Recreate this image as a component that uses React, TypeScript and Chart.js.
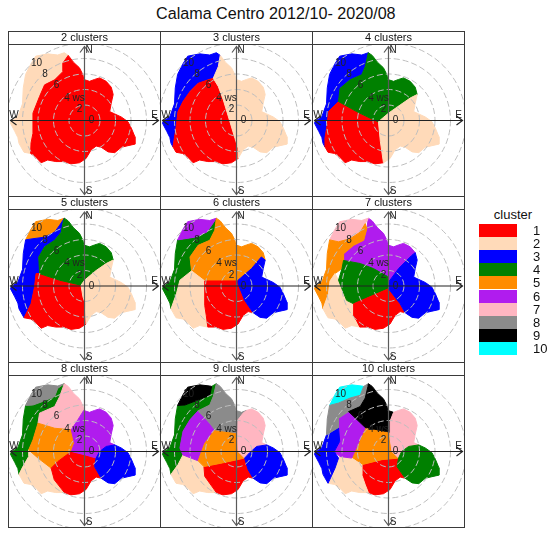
import React, { useEffect, useRef } from "react";
import { Chart, registerables } from "chart.js";

Chart.register(...registerables);

const chartTitle = "Calama Centro 2012/10- 2020/08";
const clusterIds = ["1", "2", "3", "4", "5", "6", "7", "8", "9", "10"];
const clusterColors = ["#FF0000", "#FFDAB9", "#0000FF", "#008000", "#FF8C00", "#B01CEE", "#FFB6C1", "#8B8B8B", "#000000", "#00FFFF"];
const panelCounts = [2, 3, 4, 5, 6, 7, 8, 9, 10];
const ringValues = [2, 4, 6, 8, 10];
const wsLabels = ["0", "2", "4 ws", "6", "8", "10"];
const wsLabelU = [0.9, -0.65, -1.3, -3.6, -5.1, -6.2];
const wsLabelV = [0, 1.4, 2.9, 4.5, 5.95, 7.4];

// Outer limit of the data, wind components (m/s)
const outlineU = [-2.1, -1.4, -0.65, -0.2, -0.1, 0.65, 1.3, 1.95, 2.8, 3.45, 3.7, 3.45, 3.25, 3.9, 4.75, 5.6, 6.05, 6.5, 6.5, 5.6, 4.75, 3.9, 3.05, 2.15, 1.5, 0.85, 0.2, -0.65, -1.75, -2.6, -3.7, -4.75, -5.6, -6.3, -6.95, -7.8, -8.2, -8.45, -8.6, -9.0, -9.55, -9.45, -8.6, -8.0, -7.9, -7.6, -6.95, -6.3, -4.75, -3.45, -2.6];
const outlineV = [8.4, 7.5, 6.8, 5.9, 5.3, 5.05, 5.3, 5.5, 5.05, 4.3, 3.35, 2.25, 1.15, 0.85, 0.45, -0.15, -1.0, -2.1, -3.05, -3.25, -3.45, -4.15, -4.05, -3.45, -3.3, -3.8, -4.9, -5.45, -5.6, -5.3, -5.3, -5.1, -5.45, -4.7, -4.25, -4.1, -3.4, -2.95, -2.2, -1.4, -0.35, -0.1, 0.5, 2.15, 4.2, 5.95, 7.25, 8.3, 8.6, 8.45, 8.75];

// [cluster, outline start, outline end, inner boundary u,v pairs]
type Region = [number, number, number, number[]];

const regions2: Region[] = [
  [1, 0, 34, [-6.9, -2.9, -6.65, -1.65, -6.65, 0.95, -5.8, 3.1, -5.15, 4.6, -3.85, 5.25, -2.8, 6.3, -2.8, 7.4]],
  [2, 34, 0, [-2.8, 7.4, -2.8, 6.3, -3.85, 5.25, -5.15, 4.6, -5.8, 3.1, -6.65, 0.95, -6.65, -1.65, -6.9, -2.9]],
];
const regions3: Region[] = [
  [2, 0, 26, [0.2, -3.55, -0.2, -2.3, -0.85, -0.15, -1.7, 2.65, -2.35, 4.4, -3.0, 5.45, -2.35, 6.95]],
  [1, 26, 36, [-8.0, -2.15, -7.75, -0.55, -7.55, 1.15, -6.9, 2.45, -6.0, 3.75, -4.95, 4.8, -3.65, 5.25, -3.0, 5.45, -2.35, 4.4, -1.7, 2.65, -0.85, -0.15, -0.2, -2.3, 0.2, -3.55]],
  [3, 36, 0, [-2.35, 6.95, -3.0, 5.45, -3.65, 5.25, -4.95, 4.8, -6.0, 3.75, -6.9, 2.45, -7.55, 1.15, -7.75, -0.55, -8.0, -2.15]],
];
const regions4: Region[] = [
  [2, 10, 27, [-1.05, -2.7, -1.3, -0.15, 0, 0.95, 1.5, 2.0, 2.8, 2.9]],
  [4, 50, 10, [2.8, 2.9, 1.5, 2.0, 0, 0.95, -1.3, -0.15, -1.95, 0.1, -4.1, 1.15, -6.45, 2.45, -6.25, 4.15, -4.95, 5.25, -3.45, 5.9, -3.0, 6.95]],
  [1, 27, 36, [-8.2, -2.3, -7.9, -0.5, -7.75, 1.15, -6.45, 2.45, -4.1, 1.15, -1.95, 0.1, -1.3, -0.15, -1.05, -2.7]],
  [3, 36, 50, [-3.0, 6.95, -3.45, 5.9, -4.95, 5.25, -6.25, 4.15, -6.45, 2.45, -7.75, 1.15, -7.9, -0.5, -8.2, -2.3]],
];
const regions5: Region[] = [
  [2, 10, 26, [0.1, -2.3, -0.2, -1.4, -0.45, 0.1, 0, 0.75, 1.5, 2.0, 2.8, 2.9]],
  [4, 50, 10, [2.8, 2.9, 1.5, 2.0, 0, 0.75, -0.45, 0.1, -3.2, 0.75, -5.8, 1.6, -5.9, 3.75, -5.15, 5.05, -3.85, 5.9, -3.0, 6.95, -2.8, 8.05]],
  [1, 26, 35, [-6.9, -2.3, -6.45, -0.15, -6.25, 1.6, -5.8, 1.6, -3.2, 0.75, -0.45, 0.1, -0.2, -1.4, 0.1, -2.3]],
  [3, 35, 45, [-6.65, 6.1, -5.15, 6.3, -3.85, 6.95, -3.2, 7.85, -2.6, 8.75, -2.8, 8.05, -3.0, 6.95, -3.85, 5.9, -5.15, 5.05, -5.9, 3.75, -5.8, 1.6, -6.25, 1.6, -6.45, -0.15, -6.9, -2.3]],
  [5, 45, 50, [-3.2, 7.85, -3.85, 6.95, -5.15, 6.3, -6.65, 6.1]],
];
const regions6: Region[] = [
  [3, 10, 23, [1.05, -1.85, 0.2, 0.3, 0.2, 0.75, 1.95, 2.25, 3.2, 3.75]],
  [1, 23, 30, [-3.9, -3.8, -4.1, -2.5, -4.1, 0.65, 0.2, 0.65, 0.2, 0.3, 1.05, -1.85]],
  [2, 30, 37, [-7.75, -1.0, -7.3, 0.75, -5.8, 1.95, -4.95, 1.3, -4.1, 0.65, -4.1, -2.5, -3.9, -3.8]],
  [5, 50, 10, [3.2, 3.75, 1.95, 2.25, 0.2, 0.75, 0.2, 0.65, -4.1, 0.65, -4.95, 1.3, -5.8, 1.95, -6.0, 3.75, -4.95, 5.25, -3.45, 5.9, -2.8, 7.2]],
  [6, 45, 50, [-3.2, 7.85, -3.85, 6.95, -5.4, 6.3, -6.65, 6.1]],
  [4, 37, 45, [-6.65, 6.1, -5.4, 6.3, -3.85, 6.95, -3.2, 7.85, -2.6, 8.75, -2.8, 7.2, -3.45, 5.9, -4.95, 5.25, -6.0, 3.75, -5.8, 1.95, -7.3, 0.75, -7.75, -1.0]],
];
const regions7: Region[] = [
  [3, 9, 23, [1.5, -2.3, 0, -0.35, 0, 0.5, 1.3, 2.25, 3.0, 3.95]],
  [1, 23, 30, [-4.1, -4.5, -4.5, -3.85, -4.5, -2.3, -1.5, -1.0, 0, -0.35, 1.5, -2.3]],
  [4, -1, -1, [-5.8, 3.3, -3.65, 2.9, -1.95, 2.25, -0.15, 1.25, 0, 0.5, 0, -0.35, -1.5, -1.0, -4.5, -2.3, -5.4, -1.85, -6.45, 0.75, -6.0, 2.25]],
  [2, 30, 37, [-7.75, -1.0, -7.55, 0.65, -6.9, 1.6, -6.45, 0.75, -5.4, -1.85, -4.5, -2.3, -4.5, -3.85, -4.1, -4.5]],
  [5, 37, 45, [-6.45, 5.7, -4.95, 6.1, -3.65, 6.95, -3.0, 8.05, -2.8, 7.4, -3.2, 5.9, -4.5, 5.25, -5.8, 4.15, -5.8, 3.3, -6.0, 2.25, -6.9, 1.6, -7.55, 0.65, -7.75, -1.0]],
  [7, 45, 50, [-3.0, 8.05, -3.65, 6.95, -4.95, 6.1, -6.45, 5.7]],
  [6, 50, 9, [3.0, 3.95, 1.3, 2.25, 0, 0.5, -0.15, 1.25, -1.95, 2.25, -3.65, 2.9, -5.8, 3.3, -5.8, 4.15, -4.5, 5.25, -3.2, 5.9, -2.8, 7.4]],
];
const regions8: Region[] = [
  [3, 13, 23, [1.3, -1.95, 1.5, -0.85, 1.95, 0, 2.8, 0.65]],
  [6, 4, 13, [2.8, 0.65, 1.95, 0, 1.5, -0.85, 0.15, -0.45, -1.7, 0, -1.3, 1.05, -1.7, 2.8, -0.85, 4.1]],
  [1, 23, 29, [-3.9, -3.65, -4.3, -2.15, -3.45, -1.3, -1.7, 0, 0.15, -0.45, 1.5, -0.85, 1.3, -1.95]],
  [5, -1, -1, [-6.0, 3.65, -3.85, 3.0, -1.7, 2.8, -1.3, 1.05, -1.7, 0, -3.45, -1.3, -4.3, -2.15, -6.0, -0.85, -7.2, 0.2, -6.65, 1.5]],
  [7, 50, 4, [-0.85, 4.1, -1.7, 2.8, -3.85, 3.0, -6.0, 3.65, -5.8, 4.95, -3.85, 5.8, -3.2, 7.1]],
  [8, 45, 50, [-3.45, 8.15, -3.85, 7.1, -5.4, 6.45, -6.65, 6.0]],
  [2, 29, 37, [-7.95, -1.95, -7.2, -0.65, -7.2, 0.2, -6.0, -0.85, -4.3, -2.15, -3.9, -3.65]],
  [4, 37, 45, [-6.65, 6.0, -5.4, 6.45, -3.85, 7.1, -3.45, 8.15, -2.6, 8.75, -3.2, 7.1, -3.85, 5.8, -5.8, 4.95, -6.0, 3.65, -6.65, 1.5, -7.2, 0.2, -7.2, -0.65, -7.95, -1.95]],
];
const regions9: Region[] = [
  [3, 13, 23, [1.5, -2.35, 1.05, -0.85, 1.7, -0.15, 2.6, 0.65]],
  [7, 6, 13, [2.6, 0.65, 1.7, -0.15, 1.05, -0.85, 0.2, 0, 0.15, 1.7, 0.2, 4.1, 0.85, 4.95]],
  [8, 50, 6, [0.85, 4.95, 0.2, 4.1, 0.1, 2.4, -2.8, 2.8, -3.45, 3.65, -4.95, 5.25, -3.45, 6.0, -3.0, 7.1]],
  [5, -1, -1, [-2.8, 2.8, 0.1, 2.4, 0.2, 0, 1.05, -0.85, -1.95, -1.5, -4.2, -1.95, -4.95, -1.2, -4.1, 1.05]],
  [6, -1, -1, [-4.95, 5.25, -3.45, 3.65, -2.8, 2.8, -4.1, 1.05, -4.95, -1.2, -6.9, -0.45, -7.3, 0.45, -6.9, 2.6, -6.0, 4.1]],
  [1, 23, 29, [-4.1, -3.2, -4.2, -1.95, -1.95, -1.5, 1.05, -0.85, 1.5, -2.35]],
  [2, 29, 37, [-7.55, -1.7, -6.9, -0.45, -4.95, -1.2, -4.2, -1.95, -4.1, -3.2]],
  [9, 45, 49, [-3.2, 8.4, -3.45, 7.25, -4.95, 6.65, -6.65, 6.0]],
  [4, 37, 45, [-6.65, 6.0, -4.95, 6.65, -3.45, 7.25, -3.2, 8.4, -2.6, 8.75, -3.0, 7.1, -3.45, 6.0, -4.95, 5.25, -6.0, 4.1, -6.9, 2.6, -7.3, 0.45, -6.9, -0.45, -7.55, -1.7]],
];
const regions10: Region[] = [
  [4, 13, 23, [1.1, -1.95, 1.3, -0.85, 1.7, 0, 2.6, 0.65]],
  [7, 5, 13, [2.6, 0.65, 1.7, 0, 1.3, -0.85, 0.45, 0, 0.2, 1.7, 0.2, 3.9]],
  [9, 50, 5, [0.2, 3.9, 0.2, 2.5, -3.0, 3.1, -5.15, 5.15, -3.65, 5.8, -3.0, 6.9, -2.65, 8.4]],
  [8, 43, 45, [-6.45, 6.25, -4.95, 6.9, -3.65, 7.25, -3.2, 8.4, -2.6, 8.75, -2.65, 8.4, -3.0, 6.9, -3.65, 5.8, -5.15, 5.15, -6.45, 4.3, -6.45, 3.1]],
  [10, 45, 49, [-3.2, 8.4, -3.65, 7.25, -4.95, 6.9, -6.45, 6.25]],
  [3, 35, 43, [-6.45, 3.1, -6.3, 1.3, -7.0, 0, -6.45, -0.85, -6.9, -2.15]],
  [6, -1, -1, [-5.15, 5.15, -3.0, 3.1, -3.9, 1.05, -4.75, -0.85, -6.25, -0.65, -7.0, 0, -6.3, 1.3, -6.45, 3.1, -6.45, 4.3]],
  [2, 29, 35, [-6.9, -2.15, -6.45, -0.85, -6.25, -0.65, -4.75, -0.85, -3.45, -1.7, -3.45, -3.0, -3.0, -4.3]],
  [5, -1, -1, [-3.0, 3.1, 0.2, 2.5, 0.2, 1.7, 0.45, 0, 1.3, -0.85, -0.85, -1.05, -3.45, -1.7, -4.75, -0.85, -3.9, 1.05]],
  [1, 23, 29, [-3.0, -4.3, -3.45, -3.0, -3.45, -1.7, -0.85, -1.05, 1.3, -0.85, 1.1, -1.95]],
];
const panelRegions = [regions2, regions3, regions4, regions5, regions6, regions7, regions8, regions9, regions10];

const FONT = "'Liberation Sans', Arial, sans-serif";
const PX_PER_WS = 7.75;
const PANEL_W = 153;
const STRIP_H = 13;
const ROW_TOPS = [31, 196, 362];
const ROW_HEIGHTS = [166, 167, 166];

function regionPoints([, from, to, inner]: Region) {
  const pts: { x: number; y: number }[] = [];
  if (from >= 0) {
    let i = from;
    for (;;) {
      pts.push({ x: outlineU[i], y: outlineV[i] });
      if (i === to) break;
      i = (i + 1) % outlineU.length;
    }
  }
  for (let k = 0; k < inner.length; k += 2) pts.push({ x: inner[k], y: inner[k + 1] });
  pts.push({ ...pts[0] });
  return pts;
}

const overlay = {
  id: "polarFrame",
  afterDatasetsDraw(chart: any) {
    const { ctx, chartArea: a, scales } = chart;
    const cx = scales.x.getPixelForValue(0);
    const cy = scales.y.getPixelForValue(0);
    ctx.save();
    ctx.beginPath();
    ctx.rect(a.left, a.top, a.right - a.left, a.bottom - a.top);
    ctx.clip();
    ctx.strokeStyle = "#BEBEBE";
    ctx.lineWidth = 1;
    ctx.setLineDash([6, 3]);
    for (const r of ringValues) {
      ctx.beginPath();
      ctx.arc(cx, cy, Math.abs(scales.x.getPixelForValue(r) - cx), 0, Math.PI * 2);
      ctx.stroke();
    }
    ctx.setLineDash([]);
    const L = 74;
    const H = 6;
    const W = 4.5;
    ctx.strokeStyle = "#5A5A5A";
    ctx.lineWidth = 1.2;
    ctx.beginPath();
    ctx.moveTo(cx, cy - L);
    ctx.lineTo(cx, cy + L);
    ctx.moveTo(cx - W, cy - L + H);
    ctx.lineTo(cx, cy - L);
    ctx.lineTo(cx + W, cy - L + H);
    ctx.moveTo(cx - W, cy + L - H);
    ctx.lineTo(cx, cy + L);
    ctx.lineTo(cx + W, cy + L - H);
    ctx.stroke();
    ctx.strokeStyle = "#222222";
    ctx.beginPath();
    ctx.moveTo(cx - L, cy);
    ctx.lineTo(cx + L, cy);
    ctx.moveTo(cx - L + H, cy - W);
    ctx.lineTo(cx - L, cy);
    ctx.lineTo(cx - L + H, cy + W);
    ctx.moveTo(cx + L - H, cy - W);
    ctx.lineTo(cx + L, cy);
    ctx.lineTo(cx + L - H, cy + W);
    ctx.stroke();
    ctx.restore();

    ctx.save();
    ctx.fillStyle = "#222222";
    ctx.font = `10px ${FONT}`;
    ctx.textAlign = "center";
    ctx.textBaseline = "middle";
    ctx.fillText("N", cx + 4.5, cy - 70);
    ctx.fillText("S", cx + 4.5, cy + 71);
    ctx.fillText("W", cx - 70.5, cy - 5);
    ctx.fillText("E", cx + 70, cy - 5);
    wsLabels.forEach((t, i) => {
      ctx.fillText(t, scales.x.getPixelForValue(wsLabelU[i]), scales.y.getPixelForValue(wsLabelV[i]));
    });
    ctx.strokeStyle = "#3A3A3A";
    ctx.lineWidth = 1;
    ctx.strokeRect(0.5, 0.5, chart.width - 1, chart.height - 1);
    ctx.beginPath();
    ctx.moveTo(0, a.top + 0.5);
    ctx.lineTo(chart.width, a.top + 0.5);
    ctx.stroke();
    ctx.restore();
  },
};

function Panel({ count, regions, left, top, height }: { count: number; regions: Region[]; left: number; top: number; height: number }) {
  const ref = useRef<HTMLCanvasElement | null>(null);
  useEffect(() => {
    if (!ref.current) return;
    const plotH = height - STRIP_H;
    const chart = new Chart(ref.current, {
      type: "scatter",
      data: {
        datasets: regions.map((r) => ({
          label: clusterIds[r[0] - 1],
          data: regionPoints(r),
          showLine: true,
          fill: "shape",
          tension: 0,
          pointRadius: 0,
          borderWidth: 1,
          borderColor: clusterColors[r[0] - 1],
          backgroundColor: clusterColors[r[0] - 1],
        })),
      },
      options: {
        responsive: false,
        animation: false,
        layout: { padding: 0 },
        plugins: {
          legend: { display: false },
          tooltip: { enabled: false },
          title: {
            display: true,
            text: `${count} clusters`,
            color: "#111111",
            padding: 0,
            font: { family: FONT, size: 11, weight: "normal", lineHeight: STRIP_H / 11 },
          },
        },
        scales: {
          x: { type: "linear", display: false, min: -PANEL_W / 2 / PX_PER_WS, max: PANEL_W / 2 / PX_PER_WS },
          y: { type: "linear", display: false, min: -plotH / 2 / PX_PER_WS, max: plotH / 2 / PX_PER_WS },
        },
      },
      plugins: [overlay],
    } as any);
    return () => chart.destroy();
  }, [count, regions, height]);
  return <canvas ref={ref} width={PANEL_W} height={height} style={{ position: "absolute", left, top, width: PANEL_W, height }} />;
}

export default function App() {
  return (
    <div style={{ position: "absolute", left: 0, top: 0, width: 550, height: 536, background: "#fff", fontFamily: FONT, overflow: "hidden" }}>
      <div style={{ position: "absolute", left: 156, top: 2, whiteSpace: "nowrap", fontSize: 16.15, lineHeight: "22px", color: "#111" }}>{chartTitle}</div>
      {panelCounts.map((c, i) => {
        const row = Math.floor(i / 3);
        return <Panel key={c} count={c} regions={panelRegions[i]} left={8 + (i % 3) * 152} top={ROW_TOPS[row]} height={ROW_HEIGHTS[row]} />;
      })}
      <div style={{ position: "absolute", left: 473, top: 207, width: 80, textAlign: "center", fontSize: 13, lineHeight: "16px", color: "#111" }}>cluster</div>
      {clusterIds.map((id, i) => (
        <React.Fragment key={id}>
          <div style={{ position: "absolute", left: 479, top: 224 + i * 13.1, width: 38, height: 13.1, background: clusterColors[i] }} />
          <div style={{ position: "absolute", left: 533, top: 224 + i * 13.1, fontSize: 13, lineHeight: "13px", color: "#111" }}>{id}</div>
        </React.Fragment>
      ))}
    </div>
  );
}
